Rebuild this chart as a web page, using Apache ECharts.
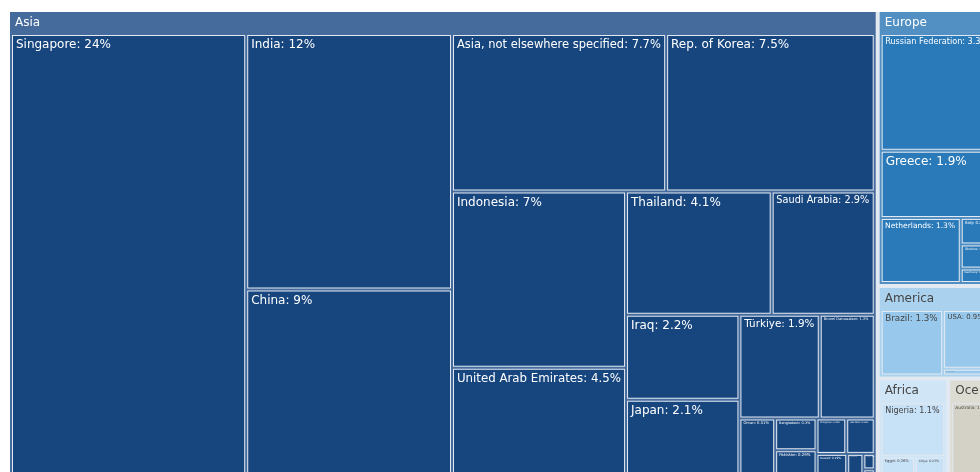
<!DOCTYPE html>
<html>
<head>
<meta charset="utf-8">
<script src="https://cdn.jsdelivr.net/npm/echarts@6/dist/echarts.min.js"></script>
<style>
html,body{margin:0;padding:0;background:#ffffff;}
#chart{width:980px;height:472px;}
</style>
</head>
<body>
<div id="chart"></div>
<script>
// ---- data (percent of total) ----
const continents = ['Asia', 'Europe', 'America', 'Africa', 'Oceania'];

const asiaNames = ['Singapore', 'India', 'China', 'Asia, not elsewhere specified', 'Rep. of Korea',
  'Indonesia', 'United Arab Emirates', 'Thailand', 'Saudi Arabia', 'Iraq', 'Japan', 'Türkiye',
  'Brunei Darussalam', 'Oman', 'Bangladesh', 'Pakistan', 'Philippines', 'Viet Nam', 'Kuwait',
  'Qatar', 'Malaysia', 'Sri Lanka'];
const asiaValues = [24, 12, 9, 7.7, 7.5, 7, 4.5, 4.1, 2.9, 2.2, 2.1, 1.9, 1.3, 0.51, 0.3, 0.29,
  0.24, 0.23, 0.19, 0.1, 0.04, 0.03];

const europeNames = ['Russian Federation', 'Greece', 'Netherlands', 'Italy', 'Ukraine', 'Germany'];
const europeValues = [3.3, 1.9, 1.3, 0.22, 0.2, 0.12];

const americaNames = ['Brazil', 'USA', 'Canada'];
const americaValues = [1.3, 0.95, 0.11];

const africaNames = ['Nigeria', 'Egypt', 'Libya'];
const africaValues = [1.1, 0.26, 0.23];

const oceaniaNames = ['Australia'];
const oceaniaValues = [1.1];

const groupNames = [asiaNames, europeNames, americaNames, africaNames, oceaniaNames];
const groupValues = [asiaValues, europeValues, americaValues, africaValues, oceaniaValues];

// ---- styles ----
const palette = {
  Asia:    { header: '#446b9c', leaf: '#17467f', text: '#ffffff' },
  Europe:  { header: '#5290c4', leaf: '#2a79b9', text: '#ffffff' },
  America: { header: '#aad2ef', leaf: '#98c9ec', text: '#444444' },
  Africa:  { header: '#d0e6f7', leaf: '#c7e1f7', text: '#444444' },
  Oceania: { header: '#dddcd3', leaf: '#d4d2c7', text: '#444444' }
};
const FONT = '"DejaVu Sans", sans-serif';

function labelText(name, value) { return name + ': ' + value + '%'; }

function buildData(fontSizes) {
  return continents.map(function (c, gi) {
    const st = palette[c];
    return {
      name: c,
      itemStyle: { color: st.leaf, borderColor: st.header },
      upperLabel: { color: st.text },
      children: groupNames[gi].map(function (n, i) {
        const fs = (fontSizes && fontSizes[n]) || 12;
        const pt = Math.max(0.5, fs * 0.18);
        const pl = 1.5 + fs * 0.12;
        return {
          name: n,
          value: groupValues[gi][i],
          label: { color: st.text, fontSize: fs, lineHeight: fs * 1.15, padding: [pt, 0, 0, pl] }
        };
      })
    };
  });
}

const chart = echarts.init(document.getElementById('chart'), null, { renderer: 'canvas' });

function makeOption(fontSizes) {
  return {
    animation: false,
    backgroundColor: '#ffffff',
    series: [{
      type: 'treemap',
      left: 10, top: 12, width: 985, height: 470,
      squareRatio: 1,
      roam: false,
      nodeClick: false,
      breadcrumb: { show: false },
      emphasis: { disabled: true },
      label: {
        show: true,
        position: 'insideTopLeft',
        distance: 0,
        fontFamily: FONT,
        overflow: 'none',
        formatter: function (p) { return labelText(p.name, p.value); }
      },
      itemStyle: { borderColor: '#e3e9f1', borderWidth: 1, gapWidth: 0 },
      levels: [
        { itemStyle: { borderWidth: 0, gapWidth: 4 }, upperLabel: { show: false } },
        {
          itemStyle: { borderWidth: 2, gapWidth: 2 },
          upperLabel: {
            show: true, height: 23, fontFamily: FONT, fontSize: 12,
            position: [3, 10.5], verticalAlign: 'middle', formatter: '{b}'
          }
        },
        { itemStyle: { borderWidth: 1, gapWidth: 0, borderColor: '#e3e9f1' }, upperLabel: { show: false } }
      ],
      data: buildData(fontSizes)
    }]
  };
}

chart.setOption(makeOption(null));

// fit label font size to each box (shrink-to-fit, max 12px)
try {
  const ctx = document.createElement('canvas').getContext('2d');
  ctx.font = '12px ' + FONT;
  const valueOf = {};
  groupNames.forEach(function (arr, gi) { arr.forEach(function (n, i) { valueOf[n] = groupValues[gi][i]; }); });
  const sm = chart.getModel().getSeriesByIndex(0);
  const tree = sm.getData().tree;
  const sizes = {};
  tree.root.eachNode(function (node) {
    if (node.children && node.children.length) return;
    const l = node.getLayout();
    if (!l || !(node.name in valueOf)) return;
    const em = ctx.measureText(labelText(node.name, valueOf[node.name])).width / 12;
    const w = l.width - 2, h = l.height - 2;
    let fs = Math.min(12, (w - 6) / em, (h - 1.5) * 0.8);
    sizes[node.name] = Math.max(fs, 1);
  });
  chart.setOption(makeOption(sizes));
} catch (e) { console.log(e); }
</script>
</body>
</html>
